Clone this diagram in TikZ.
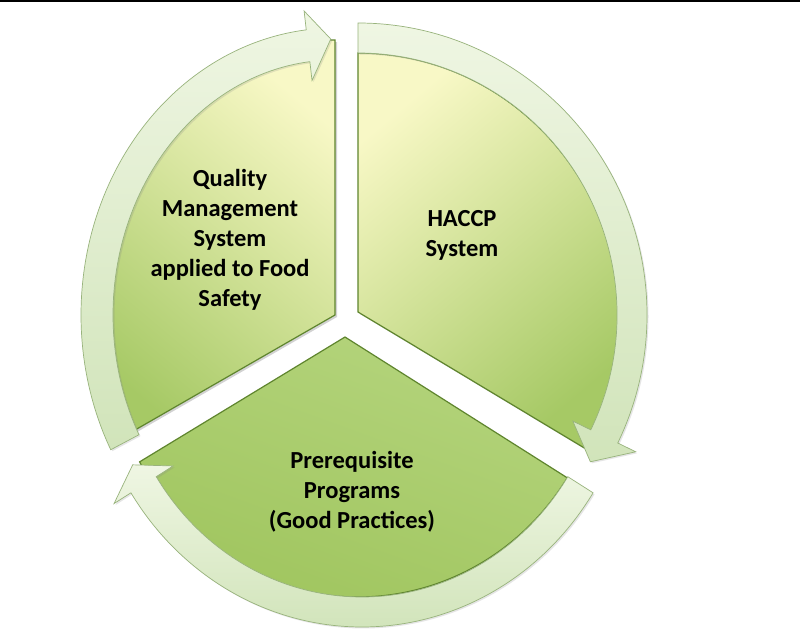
\documentclass[tikz,border=0pt]{standalone}
\usepackage{fontspec}
\setmainfont{Carlito}
\usetikzlibrary{shadows}
\definecolor{secedge}{HTML}{5F852E}
\definecolor{lyellow}{HTML}{F8F8C6}
\definecolor{lgreen}{HTML}{B4D47C}
\definecolor{mgreen}{HTML}{A6C965}
\definecolor{dgreen}{HTML}{9EC45C}
\definecolor{bandtop}{HTML}{EFF6E3}
\definecolor{bandbot}{HTML}{D1E4BA}
\definecolor{bandedge}{HTML}{98B37C}
\begin{document}
\begin{tikzpicture}[x=1pt,y=-1pt,
  sector/.style={draw=secedge, line width=1.2pt,
    drop shadow={opacity=0.35, shadow xshift=2pt, shadow yshift=-2pt}},
  band/.style={draw=bandedge, line width=0.7pt, top color=bandtop, bottom color=bandbot,
    drop shadow={opacity=0.2, shadow xshift=1.5pt, shadow yshift=-1.5pt}},
  lbl/.style={align=center, inner sep=0pt, font=\bfseries\fontsize{24.5}{30}\selectfont, text=black}]
\useasboundingbox (0,0) rectangle (800,639);
\fill[white] (0,0) rectangle (800,639);
\fill[black] (0,0) rectangle (800,2);

% sectors
\path[sector, top color=lyellow, bottom color=mgreen, shading angle=-40]
  (335,315) -- ([shift={(335,315)}]154.6:227 and 275)
  arc[start angle=154.6, end angle=270, x radius=227, y radius=275] -- cycle;
\path[sector, top color=lyellow, bottom color=mgreen, shading angle=40]
  (358,312) -- (358,53)
  arc[start angle=-90, end angle=28.5, x radius=262, y radius=269] -- cycle;
\path[sector, top color=lgreen, bottom color=dgreen, shading angle=-20]
  (345,337) -- ([shift={(358,337)}]32.8:249 and 260)
  arc[start angle=32.8, end angle=151.3, x radius=249, y radius=260] -- cycle;

% circular arrows
\path[band]
  ([shift={(335,315)}]152:254 and 287)
  arc[start angle=152, end angle=263.5, x radius=254, y radius=287]
  -- ([shift={(335,315)}]263.5:273 and 306)
  -- ([shift={(335,315)}]269:243 and 276)
  -- ([shift={(335,315)}]263.5:203 and 236)
  -- ([shift={(335,315)}]263.5:222 and 255)
  arc[start angle=263.5, end angle=152, x radius=222, y radius=255] -- cycle;
\path[band]
  ([shift={(358,315)}]-90:289 and 292)
  arc[start angle=-90, end angle=26, x radius=289, y radius=292]
  -- ([shift={(358,315)}]26:309 and 312)
  -- ([shift={(358,315)}]32:274 and 277)
  -- ([shift={(358,315)}]26:239 and 242)
  -- ([shift={(358,315)}]26:259 and 262)
  arc[start angle=26, end angle=-90, x radius=259, y radius=262] -- cycle;
\path[band]
  ([shift={(362,337)}]32.5:274 and 290)
  arc[start angle=32.5, end angle=147.5, x radius=274, y radius=290]
  -- ([shift={(362,337)}]147.5:294 and 310)
  -- ([shift={(362,337)}]152.3:259 and 275)
  -- ([shift={(362,337)}]147.5:224 and 240)
  -- ([shift={(362,337)}]147.5:244 and 260)
  arc[start angle=147.5, end angle=32.5, x radius=244, y radius=260] -- cycle;

% labels
\node[lbl] (qms) at (230,240) {Quality\\Management\\System\\applied to Food\\Safety};
\node[lbl] (haccp) at (462,235) {HACCP\\System};
\node[lbl] (prp) at (352,492) {Prerequisite\\Programs\\(Good Practices)};
\end{tikzpicture}
\end{document}
